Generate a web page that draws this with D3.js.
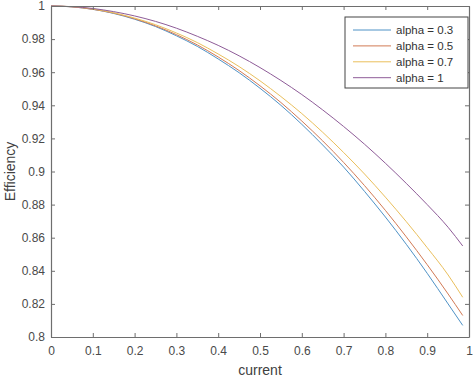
<!DOCTYPE html>
<html>
<head>
<meta charset="utf-8">
<script src="https://cdn.jsdelivr.net/npm/d3@7"></script>
<style>
  body { margin: 0; background: #fff; }
  text { font-family: "Liberation Sans", Arial, sans-serif; fill: #404040; }
</style>
</head>
<body>
<svg></svg>
<script>
const svgWidth = 474;
const svgHeight = 378;

// data
const current = [0, 0.05, 0.1, 0.15, 0.2, 0.25, 0.3, 0.35, 0.4, 0.45, 0.5,
                 0.55, 0.6, 0.65, 0.7, 0.75, 0.8, 0.85, 0.9, 0.95, 0.985];
const alpha03 = [1, 0.9995, 0.998, 0.9955, 0.992, 0.9876, 0.982, 0.9756, 0.968, 0.9597, 0.9503,
                 0.940, 0.9285, 0.916, 0.9027, 0.888, 0.8725, 0.856, 0.8385, 0.820, 0.807];
const alpha05 = [1, 0.9995, 0.998, 0.9957, 0.9923, 0.988, 0.9827, 0.9765, 0.9692, 0.961, 0.9518,
                 0.9417, 0.9305, 0.9185, 0.9055, 0.8915, 0.8765, 0.8605, 0.8437, 0.826, 0.813];
const alpha07 = [1, 0.9996, 0.9982, 0.9959, 0.9927, 0.9887, 0.9837, 0.9779, 0.971, 0.9634, 0.9548,
                 0.9453, 0.935, 0.9237, 0.9115, 0.8985, 0.8845, 0.8697, 0.854, 0.8375, 0.824];
const alpha1  = [1, 0.9996, 0.9985, 0.9966, 0.994, 0.9907, 0.9866, 0.9817, 0.9762, 0.9699, 0.9628,
                 0.955, 0.9465, 0.9372, 0.9272, 0.9165, 0.905, 0.8928, 0.88, 0.8663, 0.855];
const seriesNames = ["alpha = 0.3", "alpha = 0.5", "alpha = 0.7", "alpha = 1"];
const seriesColors = ["#4f92c6", "#d27a55", "#eabf5c", "#8e5c98"];
const xTicks = [0, 0.1, 0.2, 0.3, 0.4, 0.5, 0.6, 0.7, 0.8, 0.9, 1];
const yTicks = [0.8, 0.82, 0.84, 0.86, 0.88, 0.9, 0.92, 0.94, 0.96, 0.98, 1];

const series = [alpha03, alpha05, alpha07, alpha1];

const margin = {top: 6, right: 5, bottom: 41, left: 51};
const width = svgWidth - margin.left - margin.right;
const height = svgHeight - margin.top - margin.bottom;

const svg = d3.select("svg")
    .attr("width", svgWidth)
    .attr("height", svgHeight);

const g = svg.append("g")
    .attr("transform", "translate(" + margin.left + "," + margin.top + ")");

const x = d3.scaleLinear().domain([0, 1]).range([0, width]);
const y = d3.scaleLinear().domain([0.8, 1]).range([height, 0]);

// lines first, axes on top
const line = d3.line()
    .x((d, i) => x(current[i]))
    .y(d => y(d))
    .curve(d3.curveMonotoneX);

g.selectAll(".series")
    .data(series)
    .enter()
    .append("path")
    .attr("class", "series")
    .attr("fill", "none")
    .attr("stroke", (d, i) => seriesColors[i])
    .attr("stroke-width", 1)
    .attr("d", line);

// axes, MATLAB box style with inward ticks
const fmt = d => String(+d.toFixed(2));
const axisColor = "#6e6e6e";

function styleAxis(sel, showLabels) {
    sel.select(".domain").attr("stroke", axisColor).attr("stroke-width", 1.2);
    sel.selectAll(".tick line").attr("stroke", axisColor);
    sel.selectAll(".tick text")
        .style("font-size", "12px")
        .style("fill", "#4a4a4a")
        .attr("display", showLabels ? null : "none");
}

g.append("g")
    .attr("transform", "translate(0," + height + ")")
    .call(d3.axisBottom(x).tickValues(xTicks).tickFormat(fmt).tickSizeInner(-4).tickSizeOuter(0).tickPadding(9))
    .call(s => styleAxis(s, true));

g.append("g")
    .call(d3.axisTop(x).tickValues(xTicks).tickSizeInner(-4).tickSizeOuter(0))
    .call(s => styleAxis(s, false));

g.append("g")
    .call(d3.axisLeft(y).tickValues(yTicks).tickFormat(fmt).tickSizeInner(-4).tickSizeOuter(0).tickPadding(6))
    .call(s => styleAxis(s, true));

g.append("g")
    .attr("transform", "translate(" + width + ",0)")
    .call(d3.axisRight(y).tickValues(yTicks).tickSizeInner(-4).tickSizeOuter(0))
    .call(s => styleAxis(s, false));

// axis titles
svg.append("text")
    .attr("x", margin.left + width / 2)
    .attr("y", 375)
    .attr("text-anchor", "middle")
    .style("font-size", "14px")
    .text("current");

svg.append("text")
    .attr("transform", "translate(15," + (margin.top + height / 2) + ") rotate(-90)")
    .attr("text-anchor", "middle")
    .style("font-size", "14px")
    .text("Efficiency");

// legend
const legend = svg.append("g").attr("transform", "translate(345,17)");

legend.append("rect")
    .attr("width", 123)
    .attr("height", 71)
    .attr("fill", "#fff")
    .attr("stroke", "#454545")
    .attr("stroke-width", 1);

const item = legend.selectAll(".item")
    .data(seriesNames)
    .enter()
    .append("g")
    .attr("class", "item")
    .attr("transform", (d, i) => "translate(0," + (13 + i * 15.9) + ")");

item.append("line")
    .attr("x1", 8)
    .attr("x2", 46)
    .attr("stroke", (d, i) => seriesColors[i])
    .attr("stroke-width", 1);

item.append("text")
    .attr("x", 51)
    .attr("dy", "0.35em")
    .style("font-size", "11.5px")
    .style("fill", "#333")
    .text(d => d);
</script>
</body>
</html>
